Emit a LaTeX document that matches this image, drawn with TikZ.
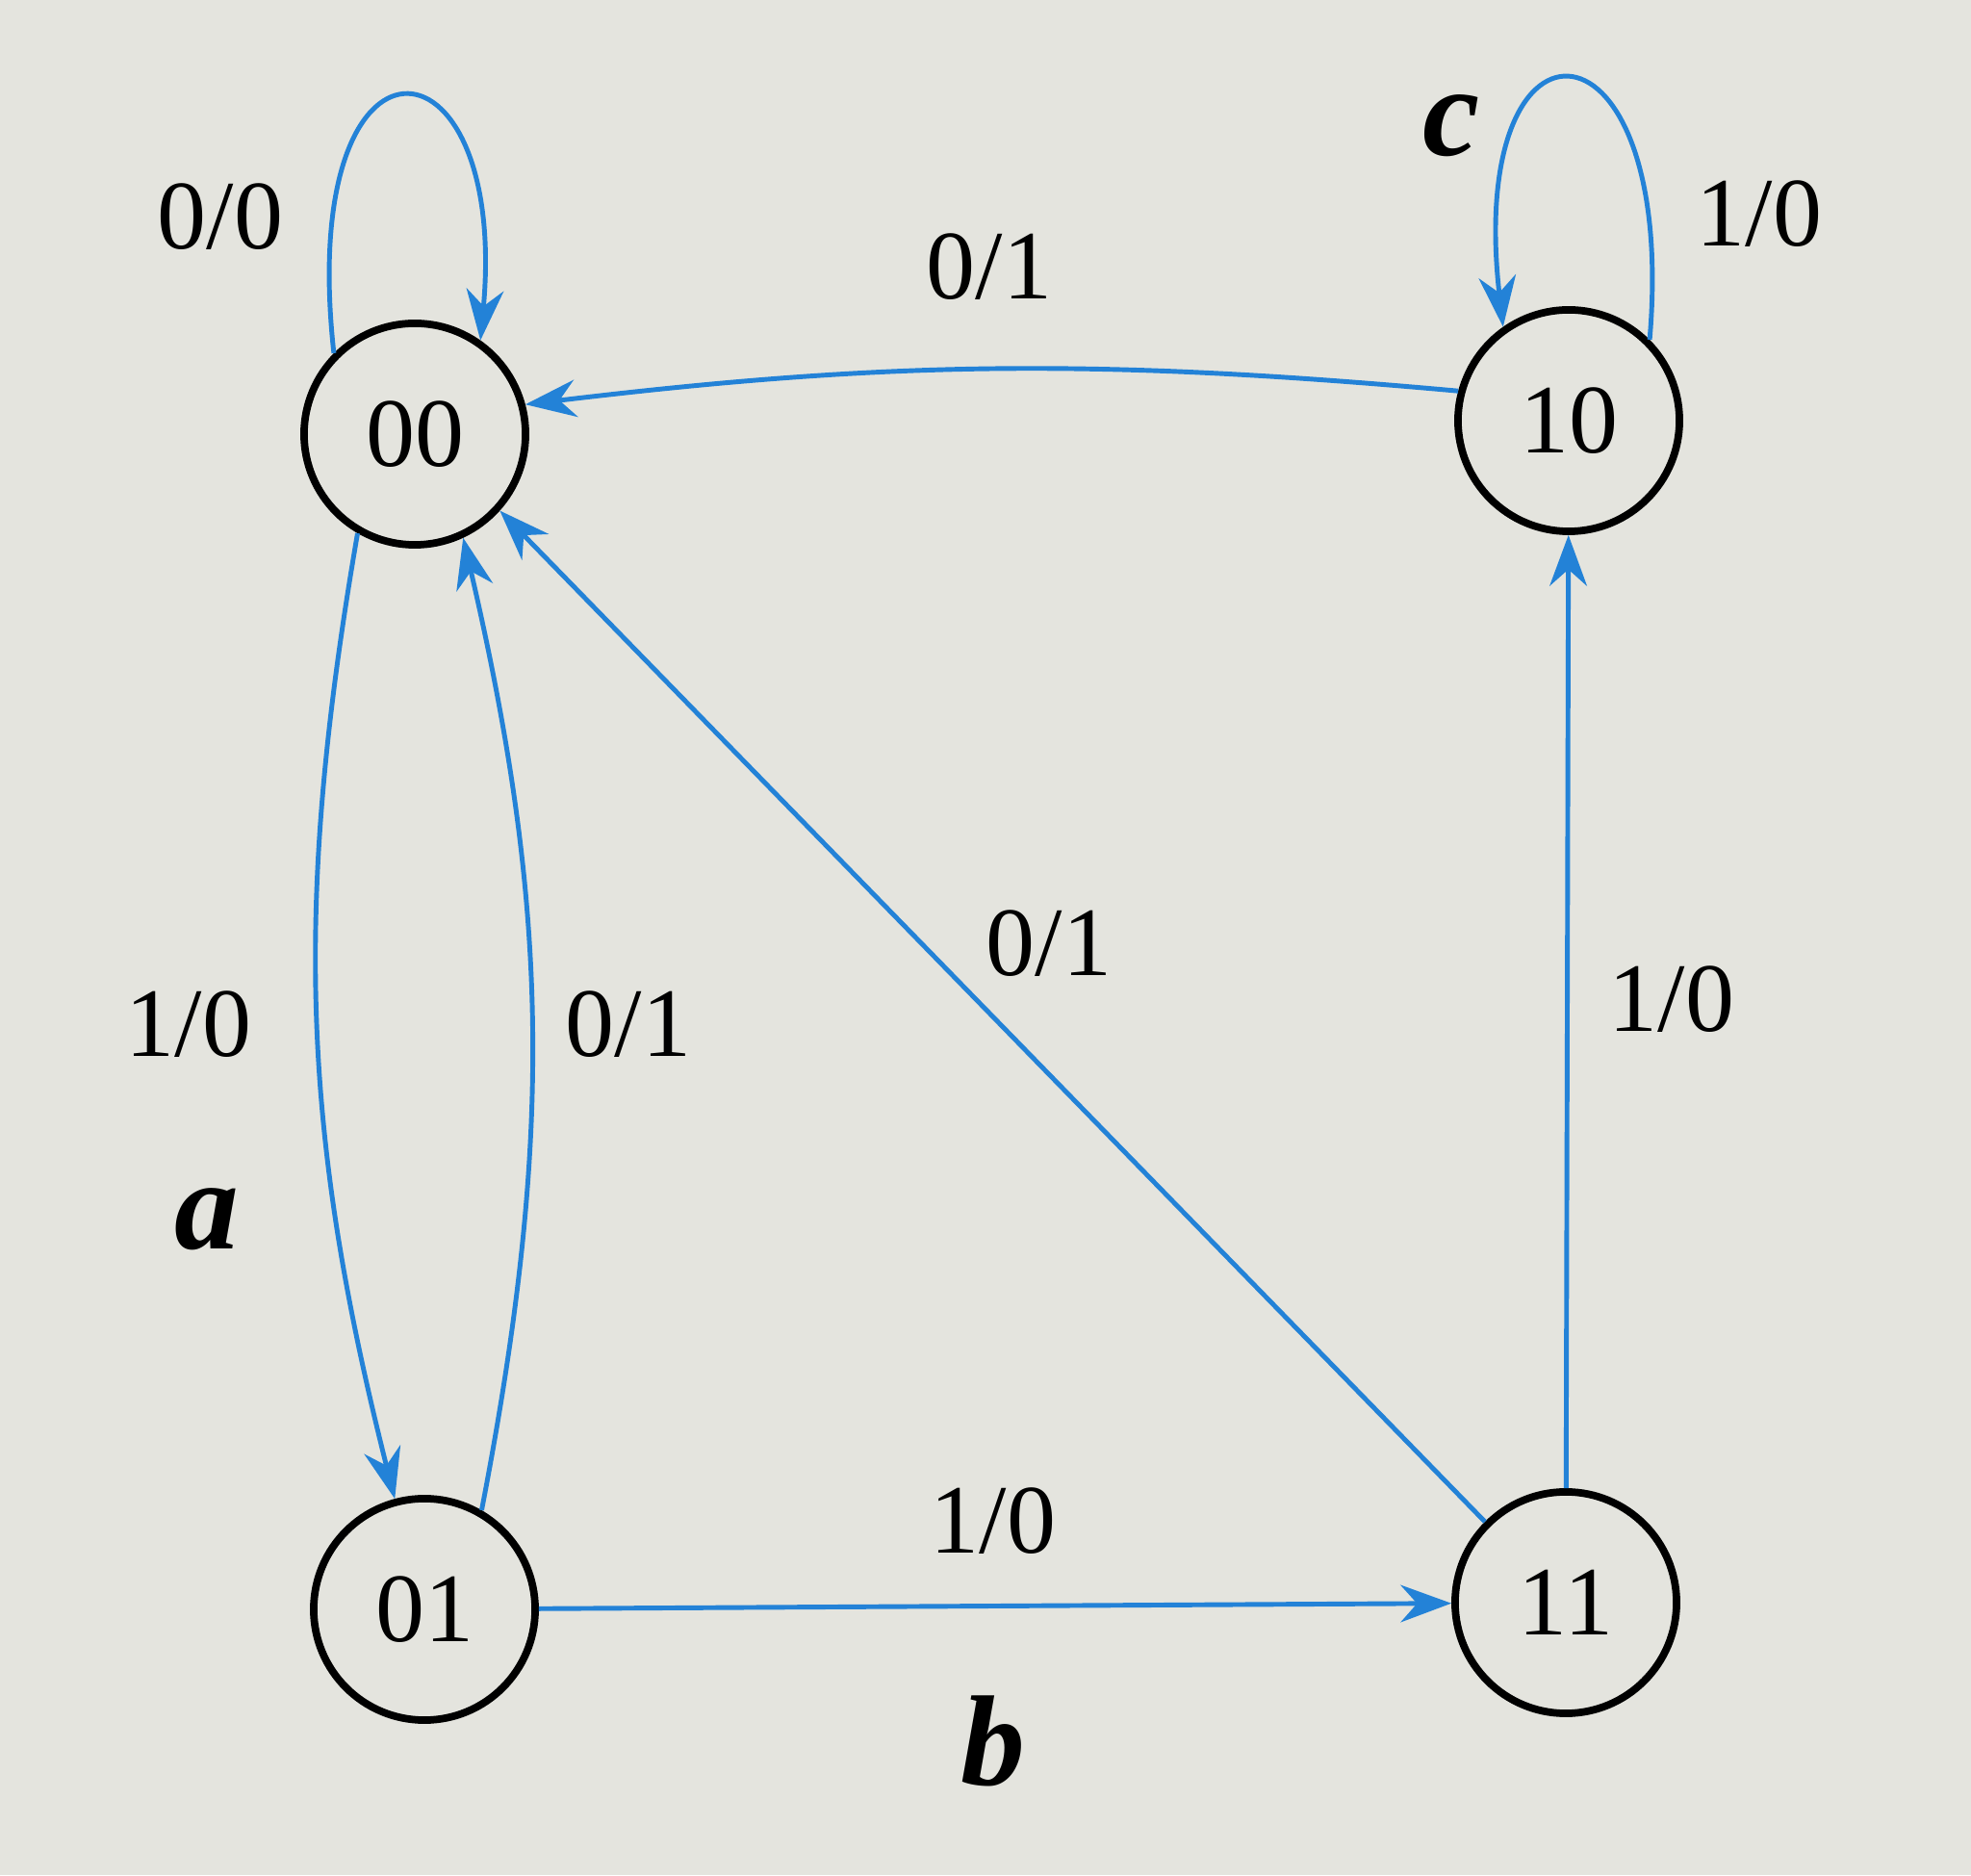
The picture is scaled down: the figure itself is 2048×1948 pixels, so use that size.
\documentclass[tikz,border=0pt]{standalone}
\usepackage{fontspec}
\setmainfont{Liberation Serif}
\usetikzlibrary{arrows.meta}
\definecolor{eblue}{RGB}{35,130,215}
\definecolor{bg}{RGB}{228,228,222}
\begin{document}
\begin{tikzpicture}[x=0.01cm,y=0.01cm,
  st/.style={circle,draw=black,line width=2.2pt,minimum size=2.3cm,inner sep=0,font=\fontsize{29}{32}\selectfont},
  ed/.style={draw=eblue,line width=1.4pt,-{Stealth[length=15pt,width=11pt]}},
  lb/.style={font=\fontsize{29}{32}\selectfont},
  lt/.style={font=\fontsize{38}{42}\selectfont\bfseries\itshape}]
\useasboundingbox (0,0) rectangle (2048,1948);
\fill[bg] (0,0) rectangle (2048,1948);
\node[st] (n00) at (431,1497) {00};
\node[st] (n10) at (1630,1511) {10};
\node[st] (n01) at (441,276) {01};
\node[st] (n11) at (1627,283) {11};
\draw[ed] (n00.135) .. controls +(-40,360) and +(30,330) .. (n00.55);
\draw[ed] (n10.45) .. controls +(30,350) and +(-40,350) .. (n10.125);
\draw[ed] (n10.165) to[bend right=6] (n00.15);
\draw[ed] (n00.240) to[bend right=12] (n01.105);
\draw[ed] (n01.60) to[bend right=12] (n00.295);
\draw[ed] (n11.135) -- (n00.318);
\draw[ed] (n11) -- (n10);
\draw[ed] (n01) -- (n11);
\node[lb] (l1) at (229,1723) {0/0};
\node[lb] (l2) at (1028,1671) {0/1};
\node[lt] (lc) at (1508,1817) {c};
\node[lb] (l3) at (1828,1726) {1/0};
\node[lb] (l4) at (196,884) {1/0};
\node[lt] (la) at (215,681) {a};
\node[lb] (l5) at (653,884) {0/1};
\node[lb] (l6) at (1090,968) {0/1};
\node[lb] (l7) at (1737,910) {1/0};
\node[lb] (l8) at (1032,368) {1/0};
\node[lt] (lbb) at (1032,139) {b};
\end{tikzpicture}
\end{document}
